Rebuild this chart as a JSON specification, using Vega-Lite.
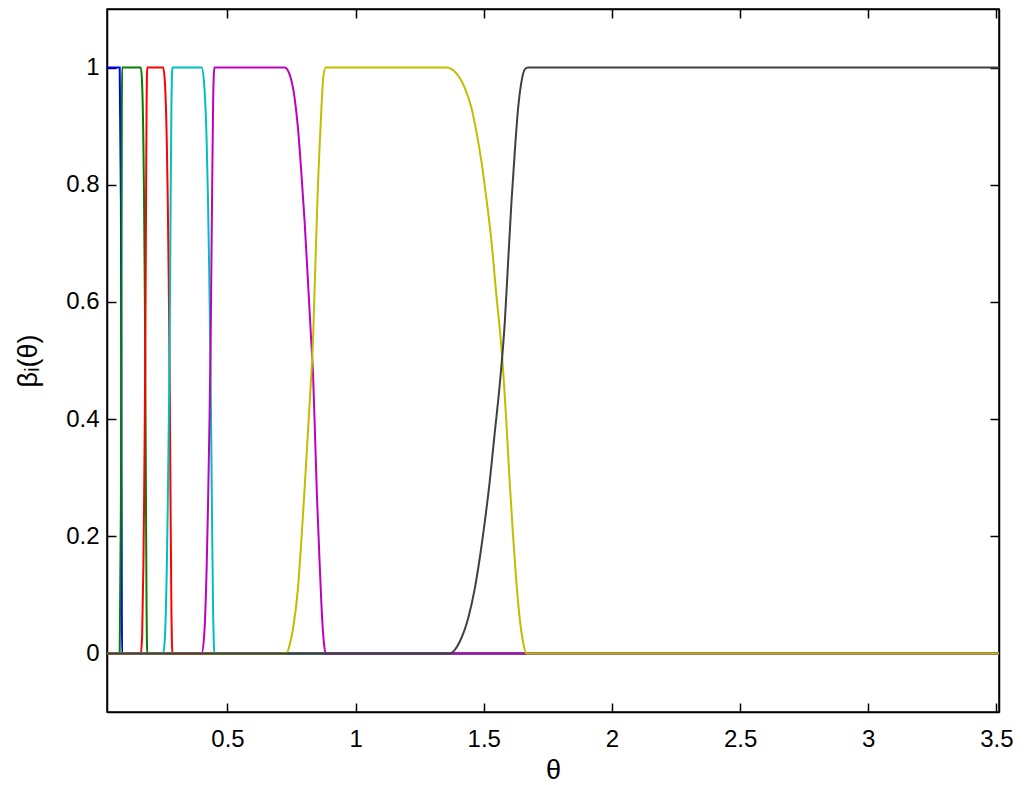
{
  "$schema": "https://vega.github.io/schema/vega-lite/v6.json",
  "width": 892,
  "height": 703,
  "autosize": {"type": "none"},
  "padding": {"left": 107, "top": 9, "right": 25, "bottom": 73},
  "config": {
    "view": {"stroke": "black", "strokeWidth": 1.5},
    "axis": {
      "domainColor": "black", "domainWidth": 1.5,
      "tickColor": "black", "tickWidth": 1.5, "tickSize": -9,
      "labelColor": "black", "titleColor": "black",
      "labelFont": "Liberation Sans", "titleFont": "Liberation Sans",
      "labelFontSize": 24, "titleFontSize": 27, "titleFontWeight": "normal",
      "grid": false
    }
  },
  "data": {"values": [
    {"i":"β1","theta":0.03,"beta":1},{"i":"β1","theta":0.0795,"beta":1},{"i":"β1","theta":0.08415,"beta":0.775},{"i":"β1","theta":0.08601,"beta":0.485},{"i":"β1","theta":0.08787,"beta":0.07},{"i":"β1","theta":0.0888,"beta":0},{"i":"β1","theta":3.51,"beta":0},

    {"i":"β2","theta":0.03,"beta":0},{"i":"β2","theta":0.0795,"beta":0},{"i":"β2","theta":0.08415,"beta":0.25},{"i":"β2","theta":0.08601,"beta":0.52},{"i":"β2","theta":0.08787,"beta":0.94},{"i":"β2","theta":0.0888,"beta":1},{"i":"β2","theta":0.162,"beta":1},{"i":"β2","theta":0.167,"beta":0.972},{"i":"β2","theta":0.172,"beta":0.87},{"i":"β2","theta":0.1745,"beta":0.775},{"i":"β2","theta":0.177,"beta":0.645},{"i":"β2","theta":0.1795,"beta":0.485},{"i":"β2","theta":0.182,"beta":0.265},{"i":"β2","theta":0.1845,"beta":0.07},{"i":"β2","theta":0.18575,"beta":0.02},{"i":"β2","theta":0.187,"beta":0},{"i":"β2","theta":3.51,"beta":0},

    {"i":"β3","theta":0.03,"beta":0},{"i":"β3","theta":0.162,"beta":0},{"i":"β3","theta":0.167,"beta":0.03},{"i":"β3","theta":0.172,"beta":0.15},{"i":"β3","theta":0.1745,"beta":0.25},{"i":"β3","theta":0.177,"beta":0.375},{"i":"β3","theta":0.1795,"beta":0.52},{"i":"β3","theta":0.182,"beta":0.74},{"i":"β3","theta":0.1845,"beta":0.94},{"i":"β3","theta":0.18575,"beta":0.985},{"i":"β3","theta":0.187,"beta":1},{"i":"β3","theta":0.249,"beta":1},{"i":"β3","theta":0.2562,"beta":0.972},{"i":"β3","theta":0.2634,"beta":0.87},{"i":"β3","theta":0.267,"beta":0.775},{"i":"β3","theta":0.2706,"beta":0.645},{"i":"β3","theta":0.2742,"beta":0.485},{"i":"β3","theta":0.2778,"beta":0.265},{"i":"β3","theta":0.2814,"beta":0.07},{"i":"β3","theta":0.2832,"beta":0.02},{"i":"β3","theta":0.285,"beta":0},{"i":"β3","theta":3.51,"beta":0},

    {"i":"β4","theta":0.03,"beta":0},{"i":"β4","theta":0.249,"beta":0},{"i":"β4","theta":0.2562,"beta":0.03},{"i":"β4","theta":0.2634,"beta":0.15},{"i":"β4","theta":0.267,"beta":0.25},{"i":"β4","theta":0.2706,"beta":0.375},{"i":"β4","theta":0.2742,"beta":0.52},{"i":"β4","theta":0.2778,"beta":0.74},{"i":"β4","theta":0.2814,"beta":0.94},{"i":"β4","theta":0.2832,"beta":0.985},{"i":"β4","theta":0.285,"beta":1},{"i":"β4","theta":0.399,"beta":1},{"i":"β4","theta":0.409,"beta":0.972},{"i":"β4","theta":0.419,"beta":0.87},{"i":"β4","theta":0.424,"beta":0.775},{"i":"β4","theta":0.429,"beta":0.645},{"i":"β4","theta":0.434,"beta":0.485},{"i":"β4","theta":0.439,"beta":0.265},{"i":"β4","theta":0.444,"beta":0.07},{"i":"β4","theta":0.4465,"beta":0.02},{"i":"β4","theta":0.449,"beta":0},{"i":"β4","theta":3.51,"beta":0},

    {"i":"β5","theta":0.03,"beta":0},{"i":"β5","theta":0.399,"beta":0},{"i":"β5","theta":0.409,"beta":0.03},{"i":"β5","theta":0.419,"beta":0.15},{"i":"β5","theta":0.424,"beta":0.25},{"i":"β5","theta":0.429,"beta":0.375},{"i":"β5","theta":0.434,"beta":0.52},{"i":"β5","theta":0.439,"beta":0.74},{"i":"β5","theta":0.444,"beta":0.94},{"i":"β5","theta":0.4465,"beta":0.985},{"i":"β5","theta":0.449,"beta":1},{"i":"β5","theta":0.723,"beta":1},{"i":"β5","theta":0.743,"beta":0.9875},{"i":"β5","theta":0.762,"beta":0.948},{"i":"β5","theta":0.775,"beta":0.897},{"i":"β5","theta":0.788,"beta":0.822},{"i":"β5","theta":0.801,"beta":0.737},{"i":"β5","theta":0.814,"beta":0.635},{"i":"β5","theta":0.827,"beta":0.532},{"i":"β5","theta":0.834,"beta":0.475},{"i":"β5","theta":0.84,"beta":0.395},{"i":"β5","theta":0.849,"beta":0.27},{"i":"β5","theta":0.86,"beta":0.15},{"i":"β5","theta":0.87,"beta":0.055},{"i":"β5","theta":0.877,"beta":0.015},{"i":"β5","theta":0.883,"beta":0},{"i":"β5","theta":3.51,"beta":0},

    {"i":"β6","theta":0.03,"beta":0},{"i":"β6","theta":0.73,"beta":0},{"i":"β6","theta":0.743,"beta":0.015},{"i":"β6","theta":0.756,"beta":0.043},{"i":"β6","theta":0.775,"beta":0.111},{"i":"β6","theta":0.788,"beta":0.191},{"i":"β6","theta":0.801,"beta":0.282},{"i":"β6","theta":0.814,"beta":0.378},{"i":"β6","theta":0.827,"beta":0.475},{"i":"β6","theta":0.834,"beta":0.538},{"i":"β6","theta":0.84,"beta":0.623},{"i":"β6","theta":0.847,"beta":0.72},{"i":"β6","theta":0.853,"beta":0.8},{"i":"β6","theta":0.86,"beta":0.87},{"i":"β6","theta":0.867,"beta":0.935},{"i":"β6","theta":0.873,"beta":0.98},{"i":"β6","theta":0.883,"beta":1},{"i":"β6","theta":1.354,"beta":1},{"i":"β6","theta":1.393,"beta":0.99},{"i":"β6","theta":1.426,"beta":0.965},{"i":"β6","theta":1.452,"beta":0.931},{"i":"β6","theta":1.471,"beta":0.891},{"i":"β6","theta":1.491,"beta":0.839},{"i":"β6","theta":1.51,"beta":0.777},{"i":"β6","theta":1.53,"beta":0.703},{"i":"β6","theta":1.549,"beta":0.612},{"i":"β6","theta":1.569,"beta":0.521},{"i":"β6","theta":1.588,"beta":0.395},{"i":"β6","theta":1.601,"beta":0.293},{"i":"β6","theta":1.614,"beta":0.202},{"i":"β6","theta":1.627,"beta":0.122},{"i":"β6","theta":1.64,"beta":0.06},{"i":"β6","theta":1.653,"beta":0.02},{"i":"β6","theta":1.666,"beta":0},{"i":"β6","theta":3.51,"beta":0},

    {"i":"β7","theta":0.03,"beta":0},{"i":"β7","theta":1.367,"beta":0},{"i":"β7","theta":1.406,"beta":0.02},{"i":"β7","theta":1.439,"beta":0.06},{"i":"β7","theta":1.465,"beta":0.111},{"i":"β7","theta":1.484,"beta":0.162},{"i":"β7","theta":1.504,"beta":0.225},{"i":"β7","theta":1.523,"beta":0.293},{"i":"β7","theta":1.543,"beta":0.378},{"i":"β7","theta":1.562,"beta":0.458},{"i":"β7","theta":1.582,"beta":0.566},{"i":"β7","theta":1.595,"beta":0.669},{"i":"β7","theta":1.608,"beta":0.771},{"i":"β7","theta":1.621,"beta":0.857},{"i":"β7","theta":1.634,"beta":0.931},{"i":"β7","theta":1.647,"beta":0.976},{"i":"β7","theta":1.66,"beta":0.997},{"i":"β7","theta":1.673,"beta":1},{"i":"β7","theta":3.51,"beta":1}
  ]},
  "layer": [
    {
      "mark": {"type": "line", "strokeWidth": 2, "interpolate": "monotone"},
      "encoding": {
        "x": {"field": "theta", "type": "quantitative",
              "scale": {"domain": [0.03, 3.51], "nice": false, "zero": false},
              "axis": {"values": [0.5, 1, 1.5, 2, 2.5, 3, 3.5], "format": "~g", "title": "θ",
                       "labelPadding": 24, "titleY": 58, "titleBaseline": "middle"}},
        "y": {"field": "beta", "type": "quantitative",
              "scale": {"domain": [-0.1, 1.1], "nice": false, "zero": false},
              "axis": {"values": [0, 0.2, 0.4, 0.6, 0.8, 1], "format": "~g", "title": "βᵢ(θ)",
                       "labelPadding": 17, "titleX": -79, "titleY": 351.5, "titleBaseline": "middle", "titleAlign": "center", "titleAngle": -90}},
        "color": {"field": "i", "type": "nominal",
                  "scale": {"domain": ["β1","β2","β3","β4","β5","β6","β7"],
                            "range": ["#0000ff","#008000","#ff0000","#00bfbf","#bf00bf","#bfbf00","#404040"]},
                  "legend": null}
      }
    },
    {
      "mark": {"type": "point", "opacity": 0},
      "encoding": {
        "x": {"field": "theta", "type": "quantitative",
              "scale": {"domain": [0.03, 3.51], "nice": false, "zero": false},
              "axis": {"orient": "top", "values": [0.5, 1, 1.5, 2, 2.5, 3, 3.5], "labels": false, "title": null}},
        "y": {"field": "beta", "type": "quantitative",
              "scale": {"domain": [-0.1, 1.1], "nice": false, "zero": false},
              "axis": {"orient": "right", "values": [0, 0.2, 0.4, 0.6, 0.8, 1], "labels": false, "title": null}}
      }
    }
  ],
  "resolve": {"axis": {"x": "independent", "y": "independent"}}
}
